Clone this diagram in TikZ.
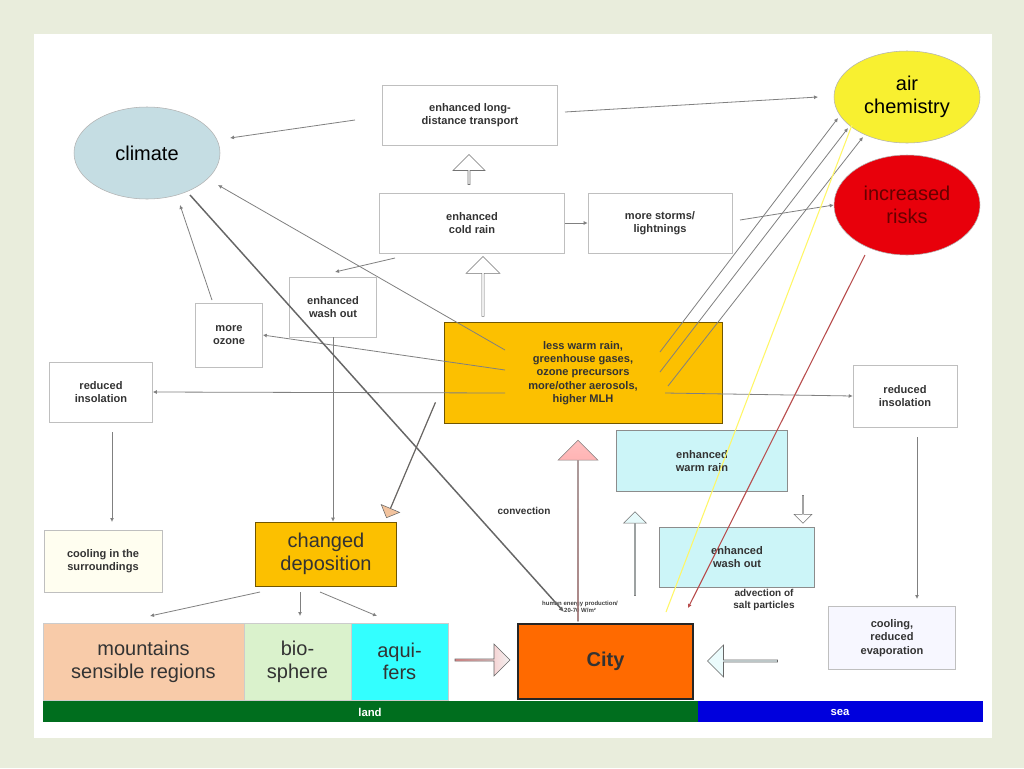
\documentclass[tikz,border=0pt]{standalone}
\usepackage{fontspec}
\setmainfont{Liberation Sans}
\usetikzlibrary{shapes.geometric,shapes.arrows,arrows.meta}
\definecolor{bgc}{HTML}{E9EDDC}
\definecolor{gold}{HTML}{FCC000}
\definecolor{lcyan}{HTML}{CCF5F8}
\definecolor{peach}{HTML}{F8CBA9}
\definecolor{lgreen}{HTML}{DAF2CC}
\definecolor{aqua}{HTML}{33FFFF}
\definecolor{cityc}{HTML}{FF6A00}
\definecolor{landc}{HTML}{006E1E}
\definecolor{seac}{HTML}{0000DD}
\definecolor{climc}{HTML}{C5DDE3}
\definecolor{airc}{HTML}{F8F030}
\definecolor{riskc}{HTML}{E8000B}
\definecolor{ln}{HTML}{808080}
\begin{document}
\begin{tikzpicture}[x=0.75pt,y=-0.75pt,
  W/.style={minimum width=#1*0.75pt},
  H/.style={minimum height=#1*0.75pt},
  box/.style={draw=black!25,fill=white,font=\bfseries\fontsize{8.3}{10}\selectfont,align=center,inner sep=1pt,text=black!80},
  big/.style={font=\fontsize{15}{17}\selectfont,align=center,inner sep=1pt,text=black!80},
  ell/.style={ellipse,draw=black!30,font=\fontsize{15}{17}\selectfont,align=center,inner sep=0pt},
  con/.style={draw=ln,line width=0.6pt,-{Latex[length=3pt,width=3pt]}},
  hol/.style={single arrow,draw=black!55,fill=white,single arrow head extend=3pt,inner sep=0pt}]
\fill[bgc] (0,0) rectangle (1024,768);
\fill[white] (34,34) rectangle (992,738);
\useasboundingbox (0,0) rectangle (1024,768);
% ellipses
\node[ell,fill=climc,W=146,H=92] (clim) at (147,153) {climate};
\node[ell,fill=airc,W=146,H=92] (air) at (907,97) {air\\chemistry};
\node[ell,fill=riskc,W=146,H=100,text=black!60!red] (risk) at (907,205) {increased\\risks};
% boxes
\node[box,W=175,H=60] (ldt) at (470,115) {enhanced long-\\distance transport};
\node[box,W=185,H=60] (cold) at (472,223) {enhanced\\cold rain};
\node[box,W=144,H=60] (storm) at (660,223) {more storms/\\lightnings};
\node[box,W=87,H=60] (wash) at (333,307) {enhanced\\wash out};
\node[box,W=67,H=64] (oz) at (229,335) {more\\ozone};
\node[box,fill=gold,draw=black!55!gold,W=278,H=101] (cen) at (583,373) {less warm rain,\\greenhouse gases,\\ozone precursors\\more/other aerosols,\\higher MLH};
\node[box,W=103,H=60] (insL) at (101,392) {reduced\\insolation};
\node[box,W=104,H=62] (insR) at (905,396) {reduced\\insolation};
\node[box,fill=lcyan,draw=black!45,W=171,H=61] (warm) at (702,461) {enhanced\\warm rain};
\node[box,fill=lcyan,draw=black!45,W=155,H=60] (wash2) at (737,557) {enhanced\\wash out};
\node[box,fill=yellow!6,W=118,H=62] (coolL) at (103,561) {cooling in the\\surroundings};
\node[big,draw=black!55!gold,fill=gold,W=141,H=64] (dep) at (326,554) {changed\\deposition};
\node[box,fill=blue!3,W=127,H=63] (coolR) at (892,638) {cooling,\\reduced\\evaporation};
\node[big,draw=black!20,fill=peach,W=201,H=77] (mnt) at (143.5,661.5) {mountains\\sensible regions};
\node[big,draw=black!20,fill=lgreen,W=107,H=77] (bio) at (297.5,661.5) {bio-\\sphere};
\node[big,draw=black!20,fill=aqua,W=97,H=77] (aqu) at (399.5,661.5) {aqui-\\fers};
\node[draw=black!85,line width=1.5pt,fill=cityc,W=175,H=75,font=\bfseries\fontsize{15}{17}\selectfont,text=black!80] (city) at (605.5,661.5) {City};
\fill[landc] (43,701) rectangle (698,722);
\fill[seac] (698,701) rectangle (983,722);
\node[font=\bfseries\fontsize{8.5}{10}\selectfont,text=white] (land) at (370,712) {land};
\node[font=\bfseries\fontsize{8.5}{10}\selectfont,text=white] (sea) at (840,712) {sea};
% labels
\node[font=\bfseries\fontsize{7.5}{9}\selectfont,text=black!80] (conv) at (524,511) {convection};
\node[font=\bfseries\fontsize{4.5}{5.5}\selectfont,align=center,text=black!75] (hep) at (580,607) {human energy production/\\20-70 W/m²};
\node[font=\bfseries\fontsize{7.5}{9.5}\selectfont,align=center,text=black!80] (adv) at (764,600) {advection of\\salt particles};
% hollow block arrows
\node[hol,H=60,W=34,rotate=90] (a1) at (483,287) {};
\node[hol,H=30,W=32,rotate=90] (a2) at (469,170) {};
\node[hol,H=84,W=23,rotate=90,fill=lcyan!50] (a3) at (635,554) {};
\node[hol,H=28,W=18,rotate=-90] (a4) at (803,509) {};
\node[single arrow,draw=black!60,left color=red!45,right color=gray!10,H=55,W=32,single arrow head extend=3pt,inner sep=0pt] (a5) at (482,660) {};
\node[single arrow,draw=black!60,fill=lcyan!40,shape border rotate=180,H=70,W=32,single arrow head extend=3pt,inner sep=0pt] (a6) at (743,661) {};
\node[single arrow,draw=black!50,bottom color=red!65,top color=red!25!white,H=181,W=40,single arrow head extend=6pt,inner sep=0pt,rotate=90] (a7) at (578,531) {};
\node[single arrow,draw=black!60,fill=peach!90!brown,H=125,W=20,single arrow head extend=6pt,inner sep=0pt,rotate=-113] (a8) at (411,460) {};
% connectors
\coordinate (p1) at (355,120); \coordinate (p2) at (565,112);
\draw[con] (p1) -- (230,138);
\draw[con] (p2) -- (818,97);
\draw[con] (cold) -- (storm);
\coordinate (cw) at (395,258);
\draw[con] (cw) -- (335,272);
\draw[con] (740,220) -- (risk.west);
\coordinate (c1) at (505,350); \coordinate (c2) at (505,370); \coordinate (c3) at (505,393); \coordinate (c4) at (665,393);
\coordinate (c5) at (660,352); \coordinate (c6) at (660,372); \coordinate (c7) at (668,386);
\draw[con] (c1) -- (218,185);
\draw[con] (c2) -- (oz.east);
\draw[con] (c3) -- (insL.east);
\draw[con] (c4) -- (insR.west);
\draw[con] (c5) -- (838,118);
\draw[con] (c6) -- (848,128);
\draw[con] (c7) -- (863,137);
\coordinate (o1) at (212,300);
\draw[con] (o1) -- (180,205);
\draw[con] (wash.south) -- (dep.north -| wash.south);
\coordinate (cl1) at (190,195);
\draw[draw=black!60,line width=1.1pt,-{Latex[length=4pt,width=3.5pt]}] (cl1) -- (564,612);
\coordinate (i1) at (112,432); \coordinate (i2) at (917,437);
\draw[con] (i1) -- (112,522);
\draw[con] (i2) -- (917,599);
\coordinate (d1) at (260,592); \coordinate (d2) at (300,592); \coordinate (d3) at (320,592);
\draw[con] (d1) -- (150,616);
\draw[con] (d2) -- (300,616);
\draw[con] (d3) -- (377,616);
\coordinate (y1) at (852,125);
\draw[draw=yellow!60!white,line width=0.8pt] (y1) -- (666,612);
\coordinate (r1) at (865,255);
\draw[draw=red!60!black!70,line width=0.8pt,-{Latex[length=3pt,width=3pt]}] (r1) -- (688,608);
\end{tikzpicture}
\end{document}
